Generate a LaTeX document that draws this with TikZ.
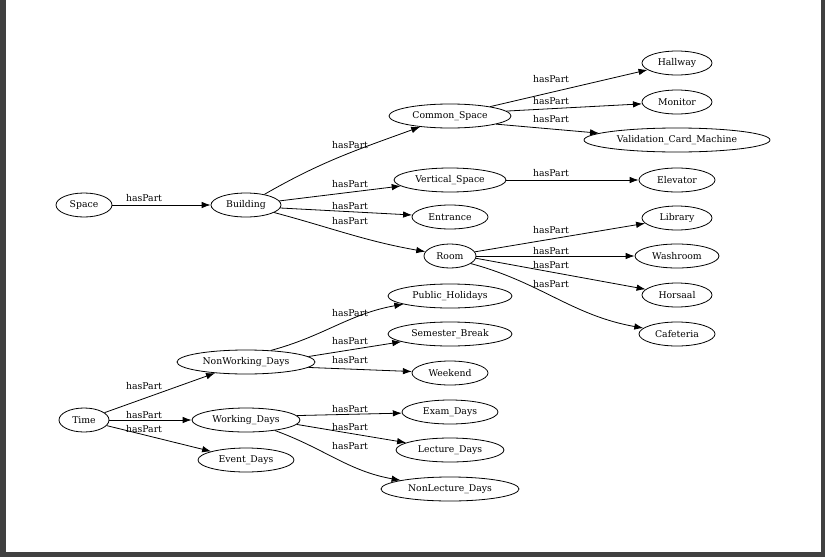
\documentclass[tikz,border=0pt]{standalone}
\usepackage{fontspec}
\setmainfont{DejaVu Serif}
\usetikzlibrary{arrows.meta,shapes.geometric}
\begin{document}
\begin{tikzpicture}[x=1pt,y=-1pt,
  cls/.style={ellipse,draw,line width=0.8pt,inner sep=0pt,minimum height=24pt,font=\fontsize{9.3}{11}\selectfont},
  lbl/.style={font=\fontsize{9.3}{11}\selectfont,inner sep=0pt},
  edge/.style={draw,line width=0.8pt,-{Latex[length=9pt,width=6.5pt]}}]
\fill[black!75] (0,0) rectangle (825,557);
\fill[white] (6,0) rectangle (821,552);
\useasboundingbox (0,0) rectangle (825,557);
\node[cls,minimum width=56pt] (space) at (84,205) {Space};
\node[cls,minimum width=70pt] (building) at (246,205) {Building};
\node[cls,minimum width=122pt] (common) at (450,116) {Common\_Space};
\node[cls,minimum width=112pt] (vertical) at (450,180) {Vertical\_Space};
\node[cls,minimum width=76pt] (entrance) at (450,217) {Entrance};
\node[cls,minimum width=52pt] (room) at (450,256) {Room};
\node[cls,minimum width=70pt] (hallway) at (677,63) {Hallway};
\node[cls,minimum width=70pt] (monitor) at (677,102) {Monitor};
\node[cls,minimum width=186pt] (valid) at (677,140) {Validation\_Card\_Machine};
\node[cls,minimum width=76pt] (elevator) at (677,180) {Elevator};
\node[cls,minimum width=70pt] (library) at (677,218) {Library};
\node[cls,minimum width=84pt] (washroom) at (677,256) {Washroom};
\node[cls,minimum width=70pt] (horsaal) at (677,295) {Horsaal};
\node[cls,minimum width=76pt] (cafeteria) at (677,334) {Cafeteria};
\node[cls,minimum width=124pt] (public) at (450,296) {Public\_Holidays};
\node[cls,minimum width=124pt] (semester) at (450,334) {Semester\_Break};
\node[cls,minimum width=76pt] (weekend) at (450,373) {Weekend};
\node[cls,minimum width=138pt] (nonworking) at (246,362) {NonWorking\_Days};
\node[cls,minimum width=108pt] (working) at (246,420) {Working\_Days};
\node[cls,minimum width=96pt] (event) at (246,460) {Event\_Days};
\node[cls,minimum width=50pt] (time) at (84,420) {Time};
\node[cls,minimum width=96pt] (exam) at (450,412) {Exam\_Days};
\node[cls,minimum width=108pt] (lecture) at (450,450) {Lecture\_Days};
\node[cls,minimum width=138pt] (nonlecture) at (450,489) {NonLecture\_Days};

\path[edge] (space) -- (building);
\path[edge] (building) to[out=30,in=200] (common);
\path[edge] (building) -- (vertical);
\path[edge] (building.-5) -- (entrance);
\path[edge] (building) to[out=-15,in=170] (room);
\path[edge] (common) -- (hallway);
\path[edge] (common.5) -- (monitor);
\path[edge] (common.-10) -- (valid);
\path[edge] (vertical) -- (elevator);
\path[edge] (room) -- (library);
\path[edge] (room) -- (washroom);
\path[edge] (room.-5) -- (horsaal);
\path[edge] (room.-20) to[out=-15,in=170] (cafeteria);
\path[edge] (nonworking.25) to[out=15,in=190] (public);
\path[edge] (nonworking.5) -- (semester);
\path[edge] (nonworking.-5) -- (weekend);
\path[edge] (time) -- (nonworking);
\path[edge] (time) -- (working);
\path[edge] (time) -- (event);
\path[edge] (working.5) -- (exam);
\path[edge] (working.-5) -- (lecture);
\path[edge] (working.-20) to[out=-20,in=170] (nonlecture);

\node[lbl] (l1) at (144,198) {hasPart};
\node[lbl] (l2) at (350,145) {hasPart};
\node[lbl] (l3) at (350,184) {hasPart};
\node[lbl] (l4) at (350,206) {hasPart};
\node[lbl] (l5) at (350,221) {hasPart};
\node[lbl] (l6) at (551,79) {hasPart};
\node[lbl] (l7) at (551,101) {hasPart};
\node[lbl] (l8) at (551,119) {hasPart};
\node[lbl] (l9) at (551,173) {hasPart};
\node[lbl] (l10) at (551,230) {hasPart};
\node[lbl] (l11) at (551,251) {hasPart};
\node[lbl] (l12) at (551,265) {hasPart};
\node[lbl] (l13) at (551,284) {hasPart};
\node[lbl] (l14) at (350,313) {hasPart};
\node[lbl] (l15) at (350,341) {hasPart};
\node[lbl] (l16) at (350,360) {hasPart};
\node[lbl] (l17) at (144,386) {hasPart};
\node[lbl] (l18) at (144,415) {hasPart};
\node[lbl] (l19) at (144,429) {hasPart};
\node[lbl] (l20) at (350,409) {hasPart};
\node[lbl] (l21) at (350,427) {hasPart};
\node[lbl] (l22) at (350,446) {hasPart};
\end{tikzpicture}
\end{document}
